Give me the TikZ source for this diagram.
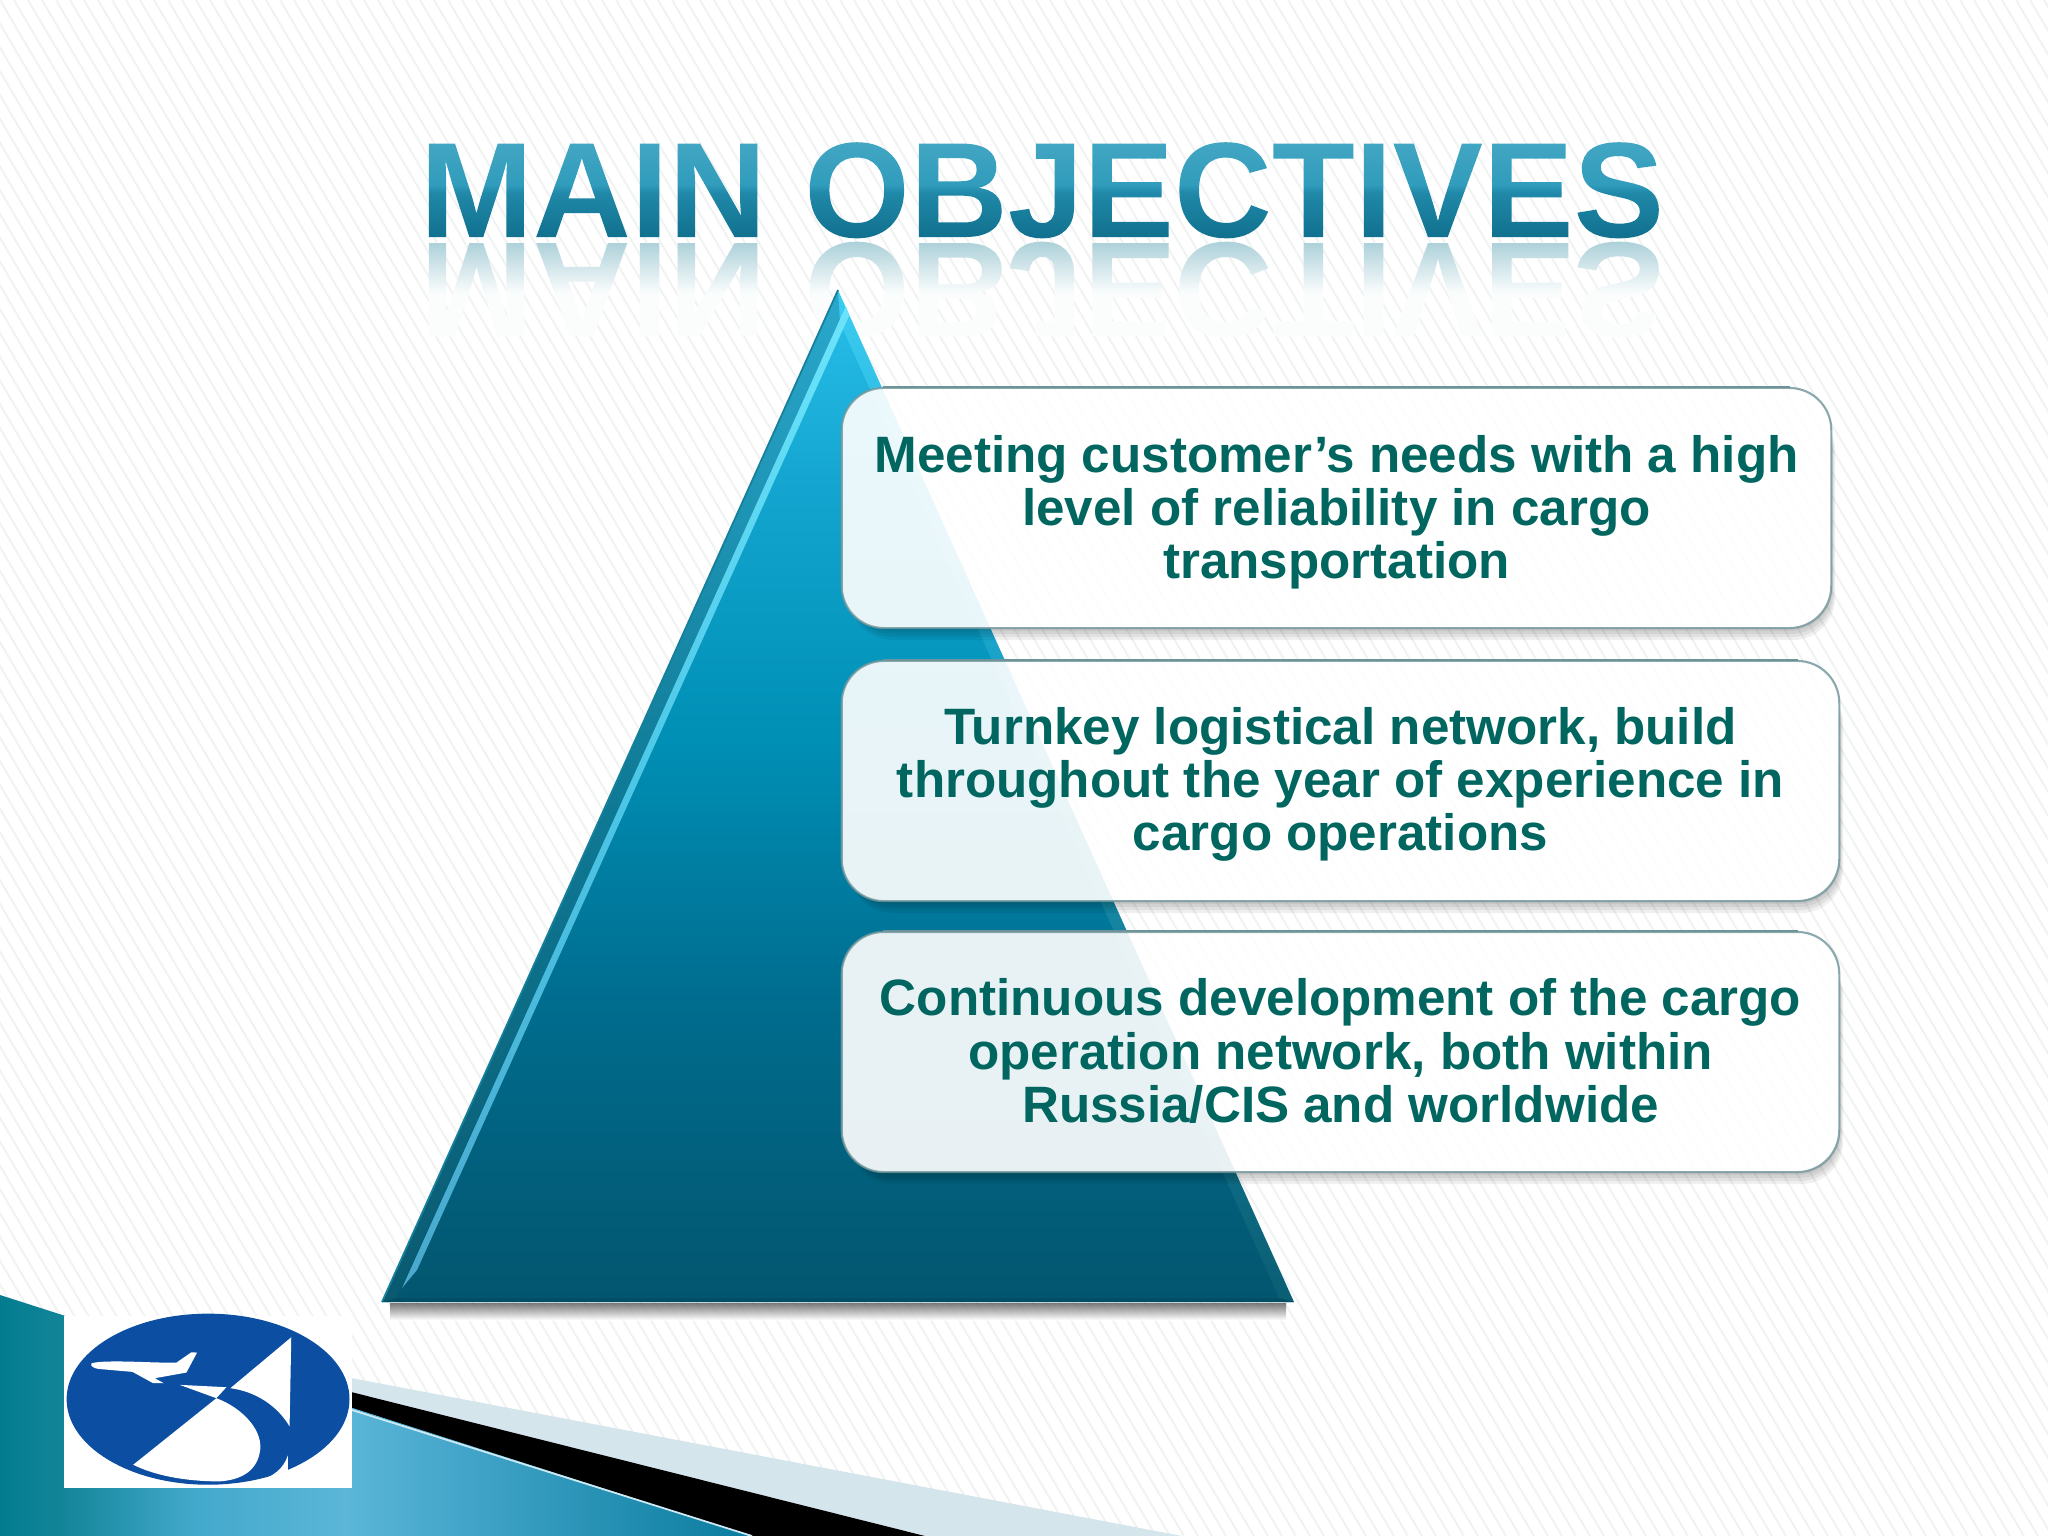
\documentclass[tikz,border=0pt]{standalone}
\usepackage{fontspec}
\setmainfont{Liberation Sans}
\usetikzlibrary{shadings}
\definecolor{inktext}{HTML}{00665F}
\definecolor{hatch}{HTML}{F1F2F2}
\definecolor{logoblue}{HTML}{0B4EA2}
\definecolor{bandgrey}{HTML}{D5E5EC}
\definecolor{boxline}{HTML}{6E9499}
\definecolor{p0}{HTML}{03566F}\definecolor{p1}{HTML}{006C8E}\definecolor{p2}{HTML}{0090B6}\definecolor{p3}{HTML}{14A6D0}\definecolor{p4}{HTML}{25BBE6}
\pgfdeclareverticalshading{pyrmain}{100bp}{color(0bp)=(p0);color(25bp)=(p0);color(40bp)=(p1);color(54bp)=(p2);color(67bp)=(p3);color(75bp)=(p4);color(100bp)=(p4)}
\definecolor{e0}{HTML}{0A5E74}\definecolor{e1}{HTML}{14809C}\definecolor{e2}{HTML}{1AA5CC}\definecolor{e3}{HTML}{3CCDF2}
\pgfdeclareverticalshading{pyredge}{100bp}{color(0bp)=(e0);color(25bp)=(e0);color(42bp)=(e1);color(58bp)=(e2);color(75bp)=(e3);color(100bp)=(e3)}
\definecolor{l0}{HTML}{0A5A70}\definecolor{l1}{HTML}{0F7A96}\definecolor{l2}{HTML}{2AA8CC}
\pgfdeclareverticalshading{pyrleft}{100bp}{color(0bp)=(l0);color(25bp)=(l0);color(50bp)=(l1);color(75bp)=(l2);color(100bp)=(l2)}
\definecolor{h0}{HTML}{4AA8CC}\definecolor{h1}{HTML}{4CC6E6}\definecolor{h2}{HTML}{6BE4FB}
\pgfdeclareverticalshading{pyrhigh}{100bp}{color(0bp)=(h0);color(25bp)=(h0);color(50bp)=(h1);color(75bp)=(h2);color(100bp)=(h2)}
\definecolor{t0}{HTML}{0F6E8C}\definecolor{t1}{HTML}{2088A8}\definecolor{t2}{HTML}{319CBC}\definecolor{t3}{HTML}{45A8C4}
\pgfdeclareverticalshading{titleink}{100bp}{color(0bp)=(t0);color(25bp)=(t0);color(48bp)=(t1);color(52bp)=(t2);color(75bp)=(t3);color(100bp)=(t3)}
\definecolor{r0}{HTML}{A6CDD6}\definecolor{r1}{HTML}{FBFDFD}
\pgfdeclareverticalshading{titlerefl}{100bp}{color(0bp)=(r0);color(25bp)=(r0);color(51bp)=(r1);color(100bp)=(r1)}
\definecolor{b0}{HTML}{037C90}\definecolor{b1}{HTML}{128498}\definecolor{b2}{HTML}{43A9CC}\definecolor{b3}{HTML}{5BB6D8}\definecolor{b4}{HTML}{3BA0C4}\definecolor{b5}{HTML}{0A7C9E}
\pgfdeclarehorizontalshading{cornerband}{100bp}{color(0bp)=(b0);color(25bp)=(b0);color(29bp)=(b1);color(38bp)=(b2);color(48bp)=(b3);color(58bp)=(b4);color(75bp)=(b5);color(100bp)=(b5)}
\newsavebox{\titlesave}
\newcommand{\titleclip}[1]{%
  \sbox{\titlesave}{\fontsize{38.6}{40}\selectfont\bfseries MAIN OBJECTIVES}%
  \special{pdf:code q 7 Tr}\usebox{\titlesave}\special{pdf:code 0 Tr}%
  \llap{\tikz[baseline=0pt,x=1pt,y=1pt]\shade[shading=#1] (0,-1.5) rectangle (\wd\titlesave,29);}%
  \special{pdf:code Q}}
\tikzset{
  objbox/.style={rounded corners=0.42cm,fill=white,fill opacity=0.91,draw=boxline,draw opacity=0.8,line width=0.6pt,
    inner sep=0pt,minimum height=2.4cm},
  objtext/.style={text=inktext,align=center,inner sep=0pt,
    font=\fontsize{14.55}{15.1}\selectfont\bfseries},
  softshadow/.style={rounded corners=0.42cm,fill=black,fill opacity=0.06,draw=none},
  titlenode/.style={inner sep=0pt,anchor=base},
  edgeline/.style={boxline,line width=0.7pt},
}
\begin{document}
\begin{tikzpicture}[x=0.01cm,y=-0.01cm]
\useasboundingbox (0,0) rectangle (2048,1536);
\fill[white] (0,0) rectangle (2048,1536);
% background hatch
\begin{scope}
\clip (0,0) rectangle (2048,1536);
\foreach \i in {-70,...,146}{
  \draw[hatch,line width=0.55pt] ({\i*14},0) -- ({\i*14+904},1536);
}
\end{scope}
% title
\node[titlenode] (reflect) at (1042,243) {\scalebox{1}[-1]{\titleclip{titlerefl}}};
\node[titlenode] (title) at (1042,237) {\titleclip{titleink}};
% corner decoration
\fill[bandgrey] (120,1334) -- (1182,1536) -- (925,1536) -- cycle;
\fill[black] (120,1334) -- (925,1536) -- (752,1536) -- cycle;
\shade[shading=cornerband] (0,1295) -- (752,1536) -- (0,1536) -- cycle;
\draw[white!70!b3,line width=0.5pt] (352,1410) -- (752,1536);
% pyramid shadow
\shade[top color=black!65,bottom color=white,opacity=0.8] (390,1303) rectangle (1286,1320);
% pyramid
\shade[shading=pyredge] (838,290) -- (1294,1302) -- (382,1302) -- cycle;
\shade[shading=pyrleft] (838,290) -- (840,323) -- (396,1298) -- (382,1302) -- cycle;
\draw[e1,line width=0.5pt,line join=miter] (838,290) -- (382,1302);
\shade[shading=pyrmain] (840,323) -- (1279,1298) -- (396,1298) -- cycle;
\fill[p0!90!black] (382,1302) -- (1294,1302) -- (1279,1298) -- (396,1298) -- cycle;
\shade[shading=pyrhigh] (846,306) -- (402,1288) -- (417,1270) -- (849,316) -- cycle;
% box shadows, outside the boxes only
\foreach \yy/\xr in {388/1831,661/1839,932/1839}{
  \begin{scope}[even odd rule]
    \clip (0,0) rectangle (2048,1536) [rounded corners=0.42cm] (842,\yy) rectangle (\xr,\yy+240);
    \foreach \d in {3,6,9,12}{
      \path[softshadow] (850,\yy+20) rectangle (\xr+\d/3,\yy+240+\d);
    }
  \end{scope}
}
% boxes
\node[objbox,minimum width=9.89cm] (boxA) at (1336.5,508) {};
\node[objbox,minimum width=9.97cm] (boxB) at (1340.5,781) {};
\node[objbox,minimum width=9.97cm] (boxC) at (1340.5,1052) {};
\draw[edgeline] ([xshift=0.42cm]boxA.north west) -- ([xshift=-0.42cm]boxA.north east);
\draw[edgeline] ([xshift=0.42cm]boxB.north west) -- ([xshift=-0.42cm]boxB.north east);
\draw[edgeline] ([xshift=0.42cm]boxC.north west) -- ([xshift=-0.42cm]boxC.north east);
\node[objtext] (textA) at (1336.5,512) {Meeting customer’s needs with a high\\level of reliability in cargo\\transportation};
\node[objtext] (textB) at (1340.5,784) {Turnkey logistical network, build\\throughout the year of experience in\\cargo operations};
\node[objtext] (textC) at (1340.5,1051) {Continuous development of the cargo\\operation network, both within\\Russia/CIS and worldwide};
% logo
\fill[white] (64,1316) rectangle (352,1488);
\begin{scope}[shift={(40,1300)},x=0.003333cm,y=-0.003333cm]
  \fill[logoblue] (505,298) ellipse (425 and 257);
  % upper-right white kite
  \fill[white] (755,112) -- (750,380) .. controls (715,320) and (650,275) .. (572,265) -- cycle;
  % lower white region
  \fill[white] (280,495) -- (530,295) .. controls (610,325) and (675,395) .. (660,460) .. controls (650,510) and (610,540) .. (540,545) .. controls (430,545) and (340,525) .. (280,495) -- cycle;
  % bottom-right cut of the ellipse
  \fill[white] (745,467) -- (745,515) -- (790,540) -- (790,563) -- (640,563) -- (650,548) .. controls (700,530) and (730,510) .. (745,467) -- cycle;
  % aircraft
  \fill[white] (155,190) .. controls (200,178) and (340,190) .. (410,188) -- (455,157) -- (472,158) -- (440,218) -- (345,235) -- (372,250) -- (340,250) -- (278,216) -- (175,207) .. controls (160,205) and (150,197) .. (155,190) -- cycle;
  % trail
  \fill[white] (420,255) -- (560,262) -- (530,295) -- cycle;
\end{scope}
\end{tikzpicture}
\end{document}
